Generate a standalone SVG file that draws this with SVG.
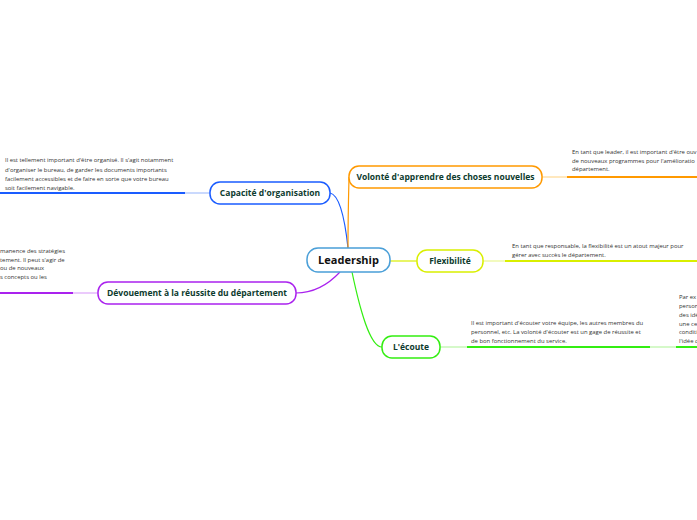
<svg xmlns="http://www.w3.org/2000/svg" width="697" height="520" viewBox="0 0 697 520">
<style>
.n{fill:#fff;stroke-width:1.5}
.t{font-family:"Open Sans","DejaVu Sans",sans-serif;font-weight:bold;font-size:8.5px;fill:#0d3b2e;text-anchor:middle}
.d{font-family:"Open Sans","DejaVu Sans",sans-serif;font-size:5.9px;fill:#333}
.c{fill:none;stroke-width:1.2}
</style>
<rect width="697" height="520" fill="#fff"/>
<g id="connectors">
<path class="c" stroke="#1a5cff" d="M348 248 C345 220 340 195 330 193"/>
<path class="c" stroke="#ff9900" d="M348 248 C348 210 349 180 349 177"/>
<path class="c" stroke="#d9ef00" d="M390 261 L417 261"/>
<path class="c" stroke="#33ee11" d="M352 272 C360 310 370 347 382 347"/>
<path class="c" stroke="#aa22ee" d="M340 272 C325 288 310 293 296 293"/>
<path stroke="#b8cdfc" stroke-width="1.5" d="M185 193H210"/><path stroke="#1a5cff" stroke-width="2" d="M0 193H185"/>
<path stroke="#e4b8fb" stroke-width="1.5" d="M73 293H98"/><path stroke="#aa22ee" stroke-width="2" d="M0 293H73"/>
<path stroke="#ffe0a8" stroke-width="1.5" d="M542 177H567"/><path stroke="#ff9900" stroke-width="2" d="M567 177H697"/>
<path stroke="#eef8a8" stroke-width="1.5" d="M483 261H505"/><path stroke="#d9ef00" stroke-width="2" d="M505 261H697"/>
<path stroke="#c8f8b8" stroke-width="1.5" d="M440 347H467M650 347H676"/><path stroke="#33ee11" stroke-width="2" d="M467 347H650M676 347H697"/>
</g>
<g id="leadership"><rect class="n" x="307" y="248" width="83" height="24" rx="11" stroke="#4a9fd8"/><text class="t" x="348.5" y="264" style="font-size:11px;fill:#111">Leadership</text></g>
<g id="capacite"><rect class="n" x="210" y="182" width="120" height="22" rx="10" stroke="#1a5cff"/><text class="t" x="270" y="196">Capacité d'organisation</text>
<text class="d" x="5" y="162">Il est tellement important d'être organisé. Il s'agit notamment</text>
<text class="d" x="5" y="172">d'organiser le bureau, de garder les documents importants</text>
<text class="d" x="5" y="181">facilement accessibles et de faire en sorte que votre bureau</text>
<text class="d" x="5" y="190">soit facilement navigable.</text></g>
<g id="volonte"><rect class="n" x="349" y="166" width="193" height="22" rx="10" stroke="#ff9900"/><text class="t" x="445.5" y="180">Volonté d'apprendre des choses nouvelles</text>
<text class="d" x="572" y="154">En tant que leader, il est important d'être ouv</text>
<text class="d" x="572" y="163">de nouveaux programmes pour l'amélioratio</text>
<text class="d" x="572" y="171">département.</text></g>
<g id="flexibilite"><rect class="n" x="417" y="250" width="66" height="22" rx="10" stroke="#d9ef00"/><text class="t" x="450" y="264">Flexibilité</text>
<text class="d" x="512" y="248">En tant que responsable, la flexibilité est un atout majeur pour</text>
<text class="d" x="512" y="257">gérer avec succès le département.</text></g>
<g id="ecoute"><rect class="n" x="382" y="336" width="58" height="22" rx="10" stroke="#33ee11"/><text class="t" x="411" y="350">L'écoute</text>
<text class="d" x="471" y="325">Il est important d'écouter votre équipe, les autres membres du</text>
<text class="d" x="471" y="334">personnel, etc. La volonté d'écouter est un gage de réussite et</text>
<text class="d" x="471" y="343">de bon fonctionnement du service.</text>
<text class="d" x="679" y="299">Par ex</text><text class="d" x="679" y="308">person</text><text class="d" x="679" y="317">des idé</text><text class="d" x="679" y="326">une ce</text><text class="d" x="679" y="334">conditi</text><text class="d" x="679" y="343">l'idée d</text></g>
<g id="devouement"><rect class="n" x="98" y="282" width="198" height="22" rx="10" stroke="#aa22ee"/><text class="t" x="197" y="296">Dévouement à la réussite du département</text>
<text class="d" x="0" y="253">manence des stratégies</text>
<text class="d" x="0" y="262">tement. Il peut s'agir de</text>
<text class="d" x="0" y="270">ou de nouveaux</text>
<text class="d" x="0" y="279">s concepts ou les</text></g>
</svg>
